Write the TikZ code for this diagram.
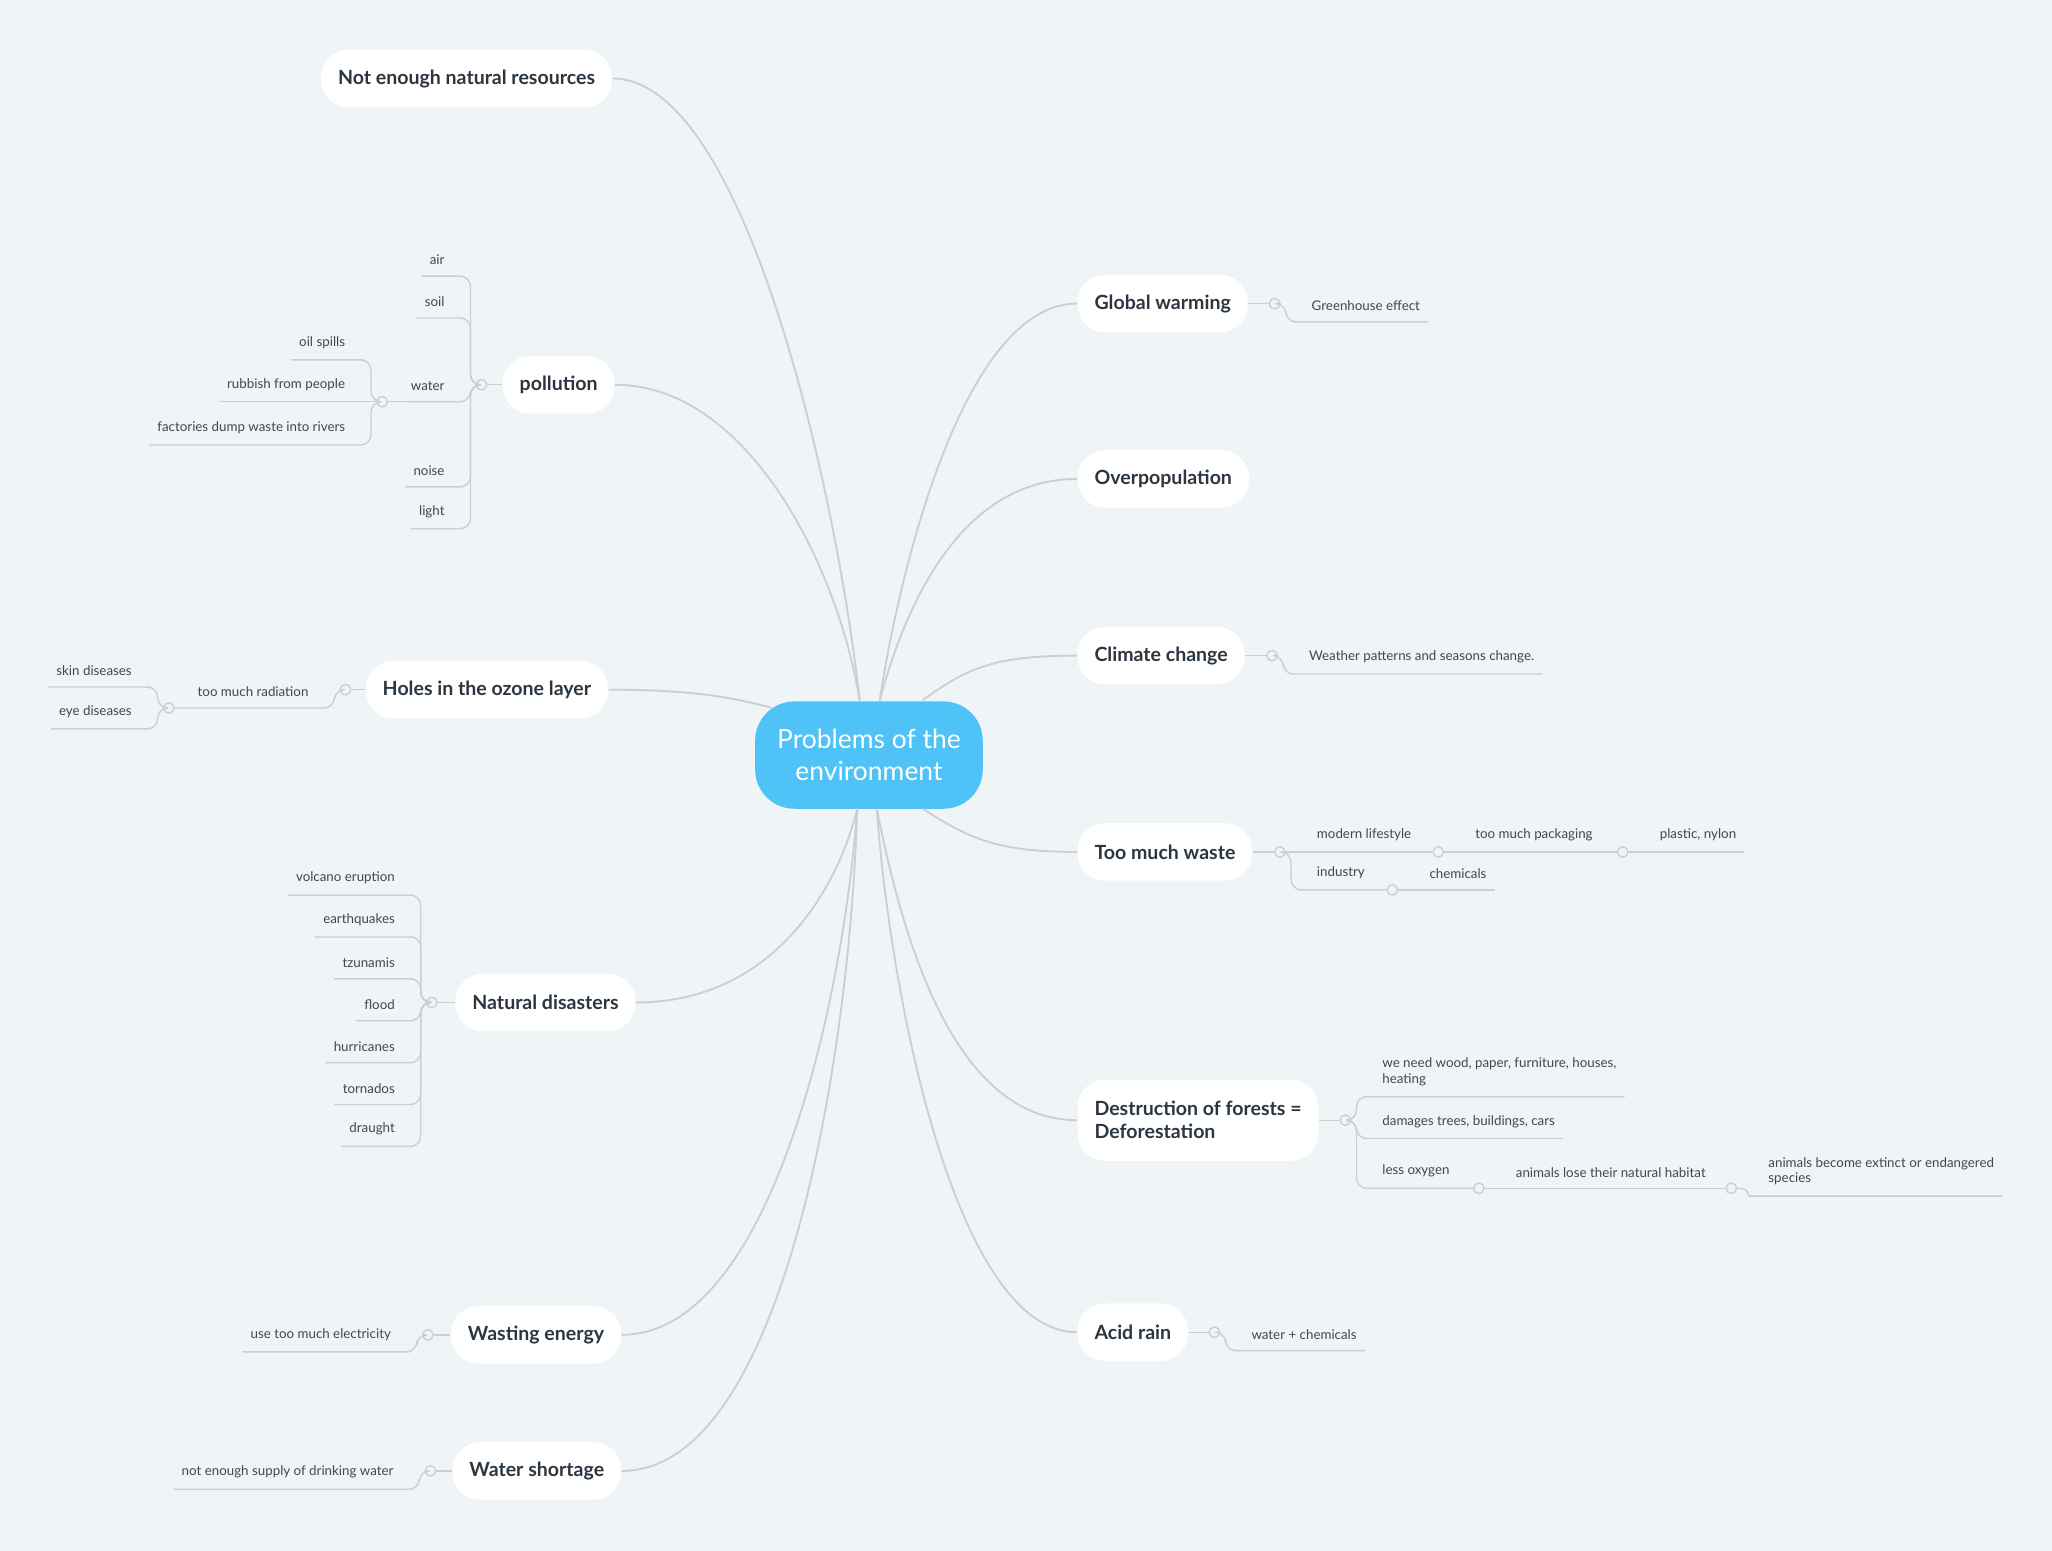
\documentclass[tikz,border=0pt]{standalone}
\usepackage{fontspec}
\setmainfont{Lato}
\definecolor{bg}{HTML}{EFF4F6}
\definecolor{lc}{HTML}{C9CFD4}
\definecolor{tc}{HTML}{2B3640}
\definecolor{lt}{HTML}{3E4850}
\definecolor{cb}{HTML}{4FC3F7}
\newcommand\tfont{\fontsize{8.5}{10}\selectfont\bfseries}
\newcommand\lfont{\fontsize{5.8}{6.8}\selectfont}
\tikzset{
 con/.style={draw=lc,line width=0.8pt},
 lcon/.style={draw=lc,line width=0.6pt,rounded corners=4.5pt},
 jt/.style={circle,draw=lc,fill=bg,line width=0.6pt,minimum size=0.16cm,inner sep=0pt},
 topic/.style={fill=white,rounded corners=0.42cm,minimum height=0.88cm,inner xsep=0.26cm,font=\tfont,text=tc,align=left},
 leafL/.style={anchor=south east,font=\lfont,text=lt,inner xsep=3.4pt,inner ysep=4.6pt,align=left},
 leafR/.style={anchor=south west,font=\lfont,text=lt,inner xsep=3.4pt,inner ysep=4.6pt,align=left}
}
\begin{document}
\begin{tikzpicture}[x=0.02cm,y=-0.02cm]
\fill[bg] (0,0) rectangle (1568,1185);
\useasboundingbox (0,0) rectangle (1568,1185);
% center
\node[fill=cb,rounded corners=0.6cm,minimum width=3.48cm,minimum height=1.64cm,text=white,font=\fontsize{11.5}{14}\selectfont,align=center] (c) at (664,577) {Problems of the\\environment};
\coordinate (cL) at (657,536);
\coordinate (cR) at (672,536);
\coordinate (cH) at (590,541);
\coordinate (cC) at (705,535);
\coordinate (cBL) at (655,618);
\coordinate (cBR) at (670,618);
\coordinate (cW) at (705,618);
% topics
\node[topic,anchor=east] (t1) at (468,60) {Not enough natural resources};
\node[topic,anchor=east] (t2) at (470,294) {pollution};
\node[topic,anchor=east] (t3) at (465,527) {Holes in the ozone layer};
\node[topic,anchor=east] (t4) at (486,766) {Natural disasters};
\node[topic,anchor=east] (t5) at (475,1020) {Wasting energy};
\node[topic,anchor=east] (t6) at (475,1124) {Water shortage};
\node[topic,anchor=west] (r1) at (823,232) {Global warming};
\node[topic,anchor=west] (r2) at (823,366) {Overpopulation};
\node[topic,anchor=west] (r3) at (823,501) {Climate change};
\node[topic,anchor=west] (r4) at (823,651) {Too much waste};
\node[topic,anchor=west,minimum height=1.24cm] (r5) at (823,856) {Destruction of forests =\\Deforestation};
\node[topic,anchor=west] (r6) at (823,1018) {Acid rain};
% main connectors
\draw[con] (t1.east) .. controls (570,60) and (640,380) .. (cL);
\draw[con] (t2.east) .. controls (570,294) and (640,430) .. (cL);
\draw[con] (t3.east) .. controls (530,527) and (560,533) .. (cH);
\draw[con] (t4.east) .. controls (590,766) and (640,680) .. (cBL);
\draw[con] (t5.east) .. controls (590,1020) and (645,760) .. (cBL);
\draw[con] (t6.east) .. controls (600,1124) and (650,800) .. (cBL);
\draw[con] (r1.west) .. controls (740,232) and (690,420) .. (cR);
\draw[con] (r2.west) .. controls (740,366) and (695,450) .. (cR);
\draw[con] (r3.west) .. controls (760,501) and (740,510) .. (cC);
\draw[con] (r4.west) .. controls (760,651) and (740,640) .. (cW);
\draw[con] (r5.west) .. controls (730,856) and (690,720) .. (cBR);
\draw[con] (r6.west) .. controls (730,1018) and (680,760) .. (cBR);
% joints
\node[jt] (j2) at (368,294) {};
\node[jt] (j2w) at (292,307) {};
\node[jt] (j3) at (264,527) {};
\node[jt] (j3r) at (129,541) {};
\node[jt] (j4) at (330,766) {};
\node[jt] (j5) at (327,1020) {};
\node[jt] (j6) at (329,1124) {};
\node[jt] (k1) at (974,232) {};
\node[jt] (k3) at (972,501) {};
\node[jt] (k4) at (978,651) {};
\node[jt] (k4a) at (1099,651) {};
\node[jt] (k4b) at (1240,651) {};
\node[jt] (k4c) at (1064,680) {};
\node[jt] (k5) at (1028,856) {};
\node[jt] (k5a) at (1130,908) {};
\node[jt] (k5b) at (1323,908) {};
\node[jt] (k6) at (928,1018) {};
\foreach \a/\b in {t2/j2,t3/j3,t4/j4,t5/j5,t6/j6}{\draw[lcon] (\a.west) -- (\b.east);}
\foreach \a/\b in {r1/k1,r3/k3,r4/k4,r5/k5,r6/k6}{\draw[lcon] (\a.east) -- (\b.west);}
% pollution leaves
\node[leafL] (p1) at (346,211) {air};
\node[leafL] (p2) at (346,243) {soil};
\node[leafL] (p3) at (346,307) {water};
\node[leafL] (p4) at (346,372) {noise};
\node[leafL] (p5) at (346,404) {light};
\foreach \l in {p1,p2,p3,p4,p5}{\draw[lcon] (j2.west) -- ++(-4,0) |- (\l.south east) -- (\l.south west);}
\draw[lcon] (p3.south west) -- (j2w.east);
\node[leafL] (w1) at (270,275) {oil spills};
\node[leafL] (w2) at (270,307) {rubbish from people};
\node[leafL] (w3) at (270,340) {factories dump waste into rivers};
\foreach \l in {w1,w3}{\draw[lcon] (j2w.west) -- ++(-4,0) |- (\l.south east) -- (\l.south west);}
\draw[lcon] (j2w.west) -- (w2.south west);
% ozone
\node[leafL] (o1) at (242,541) {too much radiation};
\draw[lcon] (j3.west) -- ++(-4,0) |- (o1.south east) -- (o1.south west) -- (j3r.east);
\node[leafL] (o2) at (107,525) {skin diseases};
\node[leafL] (o3) at (107,557) {eye diseases};
\foreach \l in {o2,o3}{\draw[lcon] (j3r.west) -- ++(-4,0) |- (\l.south east) -- (\l.south west);}
% natural disasters
\foreach \n/\y/\t in {n1/684/volcano eruption,n2/716/earthquakes,n3/748/tzunamis,n4/780/flood,n5/812/hurricanes,n6/844/tornados,n7/876/draught}{
 \node[leafL] (\n) at (308,\y) {\t};
 \draw[lcon] (j4.west) -- ++(-4,0) |- (\n.south east) -- (\n.south west);}
% energy, water
\node[leafL] (e1) at (305,1033) {use too much electricity};
\draw[lcon] (j5.west) -- ++(-4,0) |- (e1.south east) -- (e1.south west);
\node[leafL] (s1) at (307,1138) {not enough supply of drinking water};
\draw[lcon] (j6.west) -- ++(-4,0) |- (s1.south east) -- (s1.south west);
% right
\node[leafR] (g1) at (996,246) {Greenhouse effect};
\draw[lcon] (k1.east) -- ++(4,0) |- (g1.south west) -- (g1.south east);
\node[leafR] (cc1) at (994,515) {Weather patterns and seasons change.};
\draw[lcon] (k3.east) -- ++(4,0) |- (cc1.south west) -- (cc1.south east);
\node[leafR] (m1) at (1000,651) {modern lifestyle};
\node[leafR] (m2) at (1000,680) {industry};
\draw[lcon] (k4.east) -- (m1.south west) -- (k4a.west);
\draw[lcon] (k4.east) -- ++(4,0) |- (m2.south west) -- (k4c.west);
\node[leafR] (m3) at (1121,651) {too much packaging};
\draw[lcon] (k4a.east) -- (m3.south west) -- (k4b.west);
\node[leafR] (m4) at (1262,651) {plastic, nylon};
\draw[lcon] (k4b.east) -- (m4.south west) -- (m4.south east);
\node[leafR] (m5) at (1086,680) {chemicals};
\draw[lcon] (k4c.east) -- (m5.south west) -- (m5.south east);
\node[leafR] (d1) at (1050,838) {we need wood, paper, furniture, houses,\\heating};
\node[leafR] (d2) at (1050,870) {damages trees, buildings, cars};
\node[leafR] (d3) at (1050,908) {less oxygen};
\foreach \l in {d1,d2}{\draw[lcon] (k5.east) -- ++(4,0) |- (\l.south west) -- (\l.south east);}
\draw[lcon] (k5.east) -- ++(4,0) |- (d3.south west) -- (k5a.west);
\node[leafR] (d4) at (1152,908) {animals lose their natural habitat};
\draw[lcon] (k5a.east) -- (d4.south west) -- (k5b.west);
\node[leafR] (d5) at (1345,914) {animals become extinct or endangered\\species};
\draw[lcon] (k5b.east) .. controls +(10,0) and +(-10,0) .. (d5.south west) -- (d5.south east);
\node[leafR] (a1) at (950,1032) {water + chemicals};
\draw[lcon] (k6.east) -- ++(4,0) |- (a1.south west) -- (a1.south east);
\end{tikzpicture}
\end{document}
